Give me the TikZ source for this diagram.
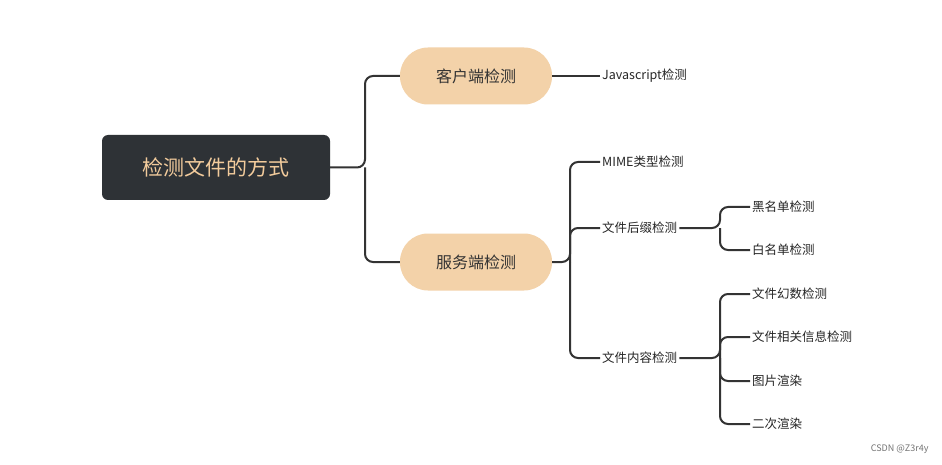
\documentclass[tikz,border=0pt]{standalone}
\usepackage{fontspec}
\setmainfont{Noto Sans CJK SC}
\begin{document}
\begin{tikzpicture}[x=1pt,y=-1pt,
  conn/.style={draw=black!80,line width=2pt,rounded corners=8pt},
  pill/.style={fill=pillc,rounded corners=28pt,minimum width=152pt,minimum height=57pt,font=\fontsize{16}{18}\selectfont,text=black!80},
  leaf/.style={anchor=west,inner sep=2pt,font=\fontsize{12.5}{14}\selectfont,text=black!85}]
\definecolor{pillc}{HTML}{F3D2A9}
\definecolor{rootc}{HTML}{2E3236}
\definecolor{roott}{HTML}{F2CB9C}
\useasboundingbox (0,0) rectangle (942,465);
\fill[white] (0,0) rectangle (942,465);
\node[fill=rootc,rounded corners=6pt,minimum width=228pt,minimum height=65pt,text=roott,font=\fontsize{21}{24}\selectfont] (root) at (216,167.5) {检测文件的方式};
\node[pill] (cli) at (476,76) {客户端检测};
\node[pill] (srv) at (476,262) {服务端检测};
\node[leaf] (js) at (600,76) {Javascript检测};
\node[leaf] (mime) at (600,162) {MIME类型检测};
\node[leaf] (ext) at (600,228) {文件后缀检测};
\node[leaf] (cont) at (600,358) {文件内容检测};
\node[leaf] (bl) at (750,207) {黑名单检测};
\node[leaf] (wl) at (750,250) {白名单检测};
\node[leaf] (magic) at (750,294) {文件幻数检测};
\node[leaf] (info) at (750,337) {文件相关信息检测};
\node[leaf] (img) at (750,381) {图片渲染};
\node[leaf] (twice) at (750,424) {二次渲染};
\node[anchor=east,font=\fontsize{9}{10}\selectfont,text=black!55] (wm) at (932,449) {CSDN @Z3r4y};
\draw[conn] (root.east) -- (365,167.5) |- (cli.west);
\draw[conn] (365,167.5) |- (srv.west);
\draw[conn] (cli.east) -- (js.west);
\draw[conn] (srv.east) -- (570,262) |- (mime.west);
\draw[conn] (570,262) |- (ext.west);
\draw[conn] (570,262) |- (cont.west);
\draw[conn] (ext.east) -- (720,228) |- (bl.west);
\draw[conn] (720,228) |- (wl.west);
\draw[conn] (cont.east) -- (720,358) |- (magic.west);
\draw[conn] (720,358) |- (info.west);
\draw[conn] (720,358) |- (img.west);
\draw[conn] (720,358) |- (twice.west);
\end{tikzpicture}
\end{document}
